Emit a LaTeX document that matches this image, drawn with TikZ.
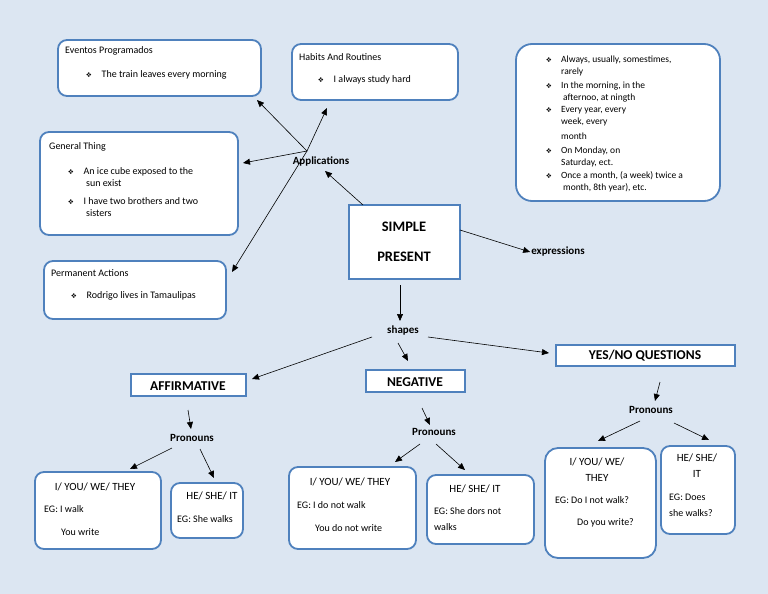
\documentclass[tikz,border=0pt]{standalone}
\usepackage{fontspec}
\usepackage{pifont}
\setmainfont{Carlito}
\usetikzlibrary{arrows.meta}
\definecolor{bg}{HTML}{DCE6F2}
\definecolor{bd}{HTML}{4F81BD}
\newcommand{\blt}{{\fontsize{7}{8}\selectfont\ding{118}}}
\begin{document}
\begin{tikzpicture}[x=1pt,y=-1pt,
  rb/.style={draw=bd,line width=1.8pt,fill=white,rounded corners=9pt},
  sb/.style={draw=bd,line width=1.5pt,fill=white},
  arr/.style={-{Triangle[length=7pt,width=6pt]},line width=0.6pt},
  lab/.style={font=\bfseries\fontsize{11}{12}\selectfont,inner sep=1pt},
  tx/.style={anchor=west,font=\fontsize{10}{12}\selectfont,inner sep=0pt,align=left}]
\fill[bg] (0,0) rectangle (768,594);
\useasboundingbox (0,0) rectangle (768,594);
% top-left boxes
\draw[rb] (58,40) rectangle (261,96);
\node[tx] (ev) at (65,51) {Eventos Programados};
\node[tx] at (86,75) {\blt\quad The train leaves every morning};
\draw[rb] (292,44) rectangle (458,100);
\node[tx] (ha) at (299,57) {Habits And Routines};
\node[tx] at (318,80) {\blt\quad I always study hard};
\draw[rb] (40,132) rectangle (238,235);
\node[tx] (ge) at (49,147) {General Thing};
\node[tx] at (68,177) {\blt\quad An ice cube exposed to the\\\hspace*{18pt}sun exist};
\node[tx] at (68,207) {\blt\quad I have two brothers and two\\\hspace*{18pt}sisters};
\draw[rb] (44,261) rectangle (226,319);
\node[tx] (pe) at (51,273) {Permanent Actions};
\node[tx] at (71,296) {\blt\quad Rodrigo lives in Tamaulipas};
% expressions box
\draw[rb,rounded corners=16pt] (516,44) rectangle (720,201);
\node[tx,font=\fontsize{9.5}{12}\selectfont,anchor=north west] at (546,56) {%
\blt\quad Always, usually, somestimes,\\\hspace*{15pt}rarely\\[2pt]
\blt\quad In the morning, in the\\\hspace*{17pt}afternoo, at ningth\\
\blt\quad Every year, every\\\hspace*{15pt}week, every\\[3pt]\hspace*{15pt}month\\[2pt]
\blt\quad On Monday, on\\\hspace*{15pt}Saturday, ect.\\[1pt]
\blt\quad Once a month, (a week) twice a\\\hspace*{17pt}month, 8th year), etc.};
% center
\draw[sb] (349,205) rectangle (460,279);
\node[font=\bfseries\fontsize{14.5}{15}\selectfont] (sp1) at (404,227) {SIMPLE};
\node[font=\bfseries\fontsize{14.5}{15}\selectfont] (sp2) at (404,257) {PRESENT};
\node[lab] (app) at (321,161) {Applications};
\node[lab] (exp) at (558,252) {expressions};
\node[lab] (sh) at (403,331) {shapes};
\coordinate (ac) at (307,151);
\draw[arr] (363,205) -- (325,171);
\draw[arr] (ac) -- (257,100);
\draw[arr] (ac) -- (327,108);
\draw[arr] (ac) -- (243,163);
\draw[arr] (ac) -- (232,272);
\draw[arr] (460,230) -- (exp.west);
\draw[arr] (400,285) -- (400,321);
% shapes
\draw[sb] (556,345) rectangle (735,366);
\node[font=\bfseries\fontsize{13.5}{14}\selectfont] (yn) at (645,356) {YES/NO QUESTIONS};
\draw[sb] (131,374) rectangle (246,396);
\node[font=\bfseries\fontsize{13.5}{14}\selectfont] (af) at (188,386) {AFFIRMATIVE};
\draw[sb] (366,370) rectangle (465,392);
\node[font=\bfseries\fontsize{13.5}{14}\selectfont] (ng) at (415,382) {NEGATIVE};
\draw[arr] (372,337) -- (252,379);
\draw[arr] (398,343) -- (408,361);
\draw[arr] (428,337) -- (549,353);
% pronouns
\node[lab] (p1) at (192,438) {Pronouns};
\node[lab] (p2) at (434,432) {Pronouns};
\node[lab] (p3) at (651,410) {Pronouns};
\draw[arr] (188,410) -- (191,429);
\draw[arr] (422,408) -- (430,425);
\draw[arr] (660,382) -- (655,401);
\draw[arr] (172,448) -- (130,469);
\draw[arr] (200,449) -- (214,478);
\draw[arr] (420,444) -- (395,462);
\draw[arr] (436,444) -- (465,470);
\draw[arr] (640,421) -- (598,441);
\draw[arr] (674,423) -- (709,440);
% bottom boxes
\tikzset{bt/.style={font=\fontsize{11}{12}\selectfont,inner sep=0pt,align=center},
 bs/.style={anchor=west,font=\fontsize{10}{11}\selectfont,inner sep=0pt,align=left}}
\draw[rb] (35,472) rectangle (161,549);
\node[bt] (a1) at (95,487) {I/ YOU/ WE/ THEY};
\node[bs] at (44,509) {EG: I walk};
\node[bs] at (61,532) {You write};
\draw[rb] (171,483) rectangle (243,538);
\node[bt] (a2) at (212,496) {HE/ SHE/ IT};
\node[bs] at (177,519) {EG: She walks};
\draw[rb] (289,467) rectangle (416,549);
\node[bt] (n1) at (350,482) {I/ YOU/ WE/ THEY};
\node[bs] at (297,505) {EG: I do not walk};
\node[bs] at (315,528) {You do not write};
\draw[rb] (427,475) rectangle (534,544);
\node[bt] (n2) at (475,489) {HE/ SHE/ IT};
\node[bs] at (434,519) {EG: She dors not\\[5pt]walks};
\draw[rb,rounded corners=13pt] (545,448) rectangle (656,558);
\node[bt] (y1) at (597,470) {I/ YOU/ WE/\\[4pt]THEY};
\node[bs] at (555,500) {EG: Do I not walk?};
\node[bs] at (577,523) {Do you write?};
\draw[rb] (661,446) rectangle (735,534);
\node[bt] (y2) at (697,466) {HE/ SHE/\\[4pt]IT};
\node[bs] at (669,505) {EG: Does\\[5pt]she walks?};
\end{tikzpicture}
\end{document}
